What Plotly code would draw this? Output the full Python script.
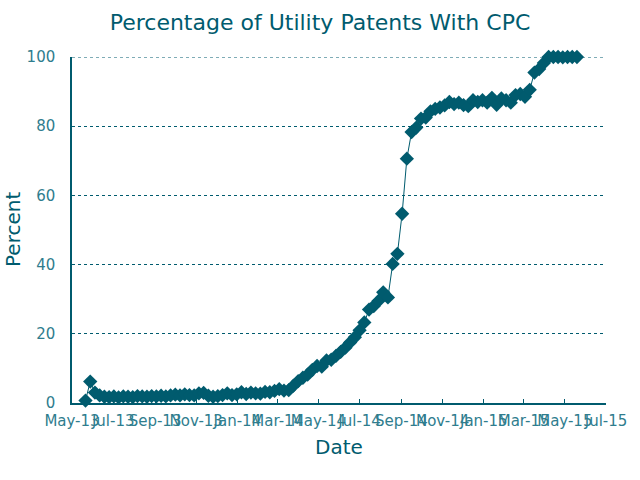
import plotly.graph_objects as go

dates = [
    "2013-05-21", "2013-05-28", "2013-06-04", "2013-06-11", "2013-06-18", "2013-06-25",
    "2013-07-02", "2013-07-09", "2013-07-16", "2013-07-23", "2013-07-30",
    "2013-08-06", "2013-08-13", "2013-08-20", "2013-08-27",
    "2013-09-03", "2013-09-10", "2013-09-17", "2013-09-24",
    "2013-10-01", "2013-10-08", "2013-10-15", "2013-10-22", "2013-10-29",
    "2013-11-05", "2013-11-12", "2013-11-19", "2013-11-26",
    "2013-12-03", "2013-12-10", "2013-12-17", "2013-12-24", "2013-12-31",
    "2014-01-07", "2014-01-14", "2014-01-21", "2014-01-28",
    "2014-02-04", "2014-02-11", "2014-02-18", "2014-02-25",
    "2014-03-04", "2014-03-11", "2014-03-18", "2014-03-25",
    "2014-04-01", "2014-04-08", "2014-04-15", "2014-04-22", "2014-04-29",
    "2014-05-06", "2014-05-13", "2014-05-20", "2014-05-27",
    "2014-06-03", "2014-06-10", "2014-06-17", "2014-06-24",
    "2014-07-01", "2014-07-08", "2014-07-15", "2014-07-22", "2014-07-29",
    "2014-08-05", "2014-08-12", "2014-08-19", "2014-08-26",
    "2014-09-02", "2014-09-09", "2014-09-16", "2014-09-23", "2014-09-30",
    "2014-10-07", "2014-10-14", "2014-10-21", "2014-10-28",
    "2014-11-04", "2014-11-11", "2014-11-18", "2014-11-25",
    "2014-12-02", "2014-12-09", "2014-12-16", "2014-12-23", "2014-12-30",
    "2015-01-06", "2015-01-13", "2015-01-20", "2015-01-27",
    "2015-02-03", "2015-02-10", "2015-02-17", "2015-02-24",
    "2015-03-03", "2015-03-10", "2015-03-17", "2015-03-24", "2015-03-31",
    "2015-04-07", "2015-04-14", "2015-04-21", "2015-04-28",
    "2015-05-05", "2015-05-12", "2015-05-19",
]

percent = [
    0.7, 6.2, 3.0, 2.2, 1.8, 1.7, 1.9, 1.6, 1.9, 1.8,
    1.7, 2.0, 1.9, 1.8, 2.0, 1.9, 2.1, 1.9, 2.2, 2.4,
    2.2, 2.5, 2.3, 2.2, 2.8, 2.9, 2.1, 1.8, 2.0, 2.3,
    2.8, 2.3, 2.5, 3.1, 2.6, 3.0, 2.8, 2.7, 3.2, 3.1,
    3.5, 4.0, 3.6, 3.7, 5.0, 6.3, 7.3, 8.2, 9.6, 10.7,
    10.5, 12.3, 12.5, 13.6, 14.8, 16.0, 17.5, 19.0, 21.0, 23.3,
    27.0, 28.0, 29.5, 32.0, 30.5, 40.2, 43.1, 54.7, 70.6, 78.3,
    79.6, 82.2, 82.5, 84.3, 85.0, 85.4, 86.0, 87.0, 86.4, 86.8,
    86.1, 85.8, 87.5, 87.0, 87.5, 86.8, 88.2, 86.2, 88.0, 87.5,
    86.8, 89.0, 89.3, 88.5, 90.5, 95.5, 96.5, 98.3, 100.0, 100.0,
    100.0, 99.9, 100.0, 100.0, 100.0,
]

x_tick_vals = [
    "2013-05-01", "2013-07-01", "2013-09-01", "2013-11-01", "2014-01-01",
    "2014-03-01", "2014-05-01", "2014-07-01", "2014-09-01", "2014-11-01",
    "2015-01-01", "2015-03-01", "2015-05-01", "2015-07-01",
]
x_tick_text = [
    "May-13", "Jul-13", "Sep-13", "Nov-13", "Jan-14", "Mar-14", "May-14",
    "Jul-14", "Sep-14", "Nov-14", "Jan-15", "Mar-15", "May-15", "Jul-15",
]
y_tick_vals = [0, 20, 40, 60, 80, 100]

dark = "#005b6e"
light = "#2f7d8e"
font = "DejaVu Sans"

W, H = 640, 480
ML, MR, MT, MB = 72, 34, 57, 77
plot_w = W - ML - MR

fig = go.Figure(
    go.Scatter(
        x=dates,
        y=percent,
        mode="lines+markers",
        line=dict(color=dark, width=1),
        marker=dict(symbol="diamond", size=11, color=dark, line=dict(width=0)),
        cliponaxis=False,
    )
)

fig.update_layout(
    width=W,
    height=H,
    margin=dict(l=ML, r=MR, t=MT, b=MB, autoexpand=False),
    paper_bgcolor="white",
    plot_bgcolor="white",
    showlegend=False,
    font=dict(family=font, color=light, size=15),
    title=dict(
        text="Percentage of Utility Patents With CPC",
        x=0.5,
        xref="container",
        xanchor="center",
        y=1 - 22 / H,
        yref="container",
        yanchor="middle",
        automargin=False,
        font=dict(family=font, size=22, color=dark),
    ),
    annotations=[
        dict(
            text="Percent",
            textangle=-90,
            xref="paper",
            yref="paper",
            x=-(ML - 13) / plot_w,
            y=0.5,
            xanchor="center",
            yanchor="middle",
            showarrow=False,
            font=dict(family=font, size=20, color=dark),
        )
    ],
    shapes=[
        dict(
            type="line",
            xref="paper",
            x0=0,
            x1=1,
            yref="y",
            y0=y_tick_vals[-1],
            y1=y_tick_vals[-1],
            line=dict(color=dark, width=1, dash="dot"),
            layer="below",
        )
    ],
)

fig.update_xaxes(
    range=["2013-05-01", "2015-07-01"],
    tickvals=x_tick_vals,
    ticktext=x_tick_text,
    tickangle=0,
    automargin=False,
    tickfont=dict(family=font, size=15, color=light),
    ticks="inside",
    ticklen=4,
    tickcolor=dark,
    ticklabelstandoff=3,
    showline=True,
    linecolor=dark,
    linewidth=1.5,
    showgrid=False,
    zeroline=False,
    title=dict(text="Date", font=dict(family=font, size=20, color=dark), standoff=11),
)

fig.update_yaxes(
    range=[0, 100],
    tickvals=y_tick_vals,
    automargin=False,
    tickfont=dict(family=font, size=15, color=light),
    ticks="",
    showline=True,
    linecolor=dark,
    linewidth=1.5,
    showgrid=True,
    gridcolor=dark,
    griddash="dot",
    gridwidth=1,
    zeroline=False,
    ticklabelstandoff=12,
)

fig.write_html(
    "out.html",
    config={"displayModeBar": False},
    post_script="document.body.style.margin='0';document.body.style.padding='0';",
)
